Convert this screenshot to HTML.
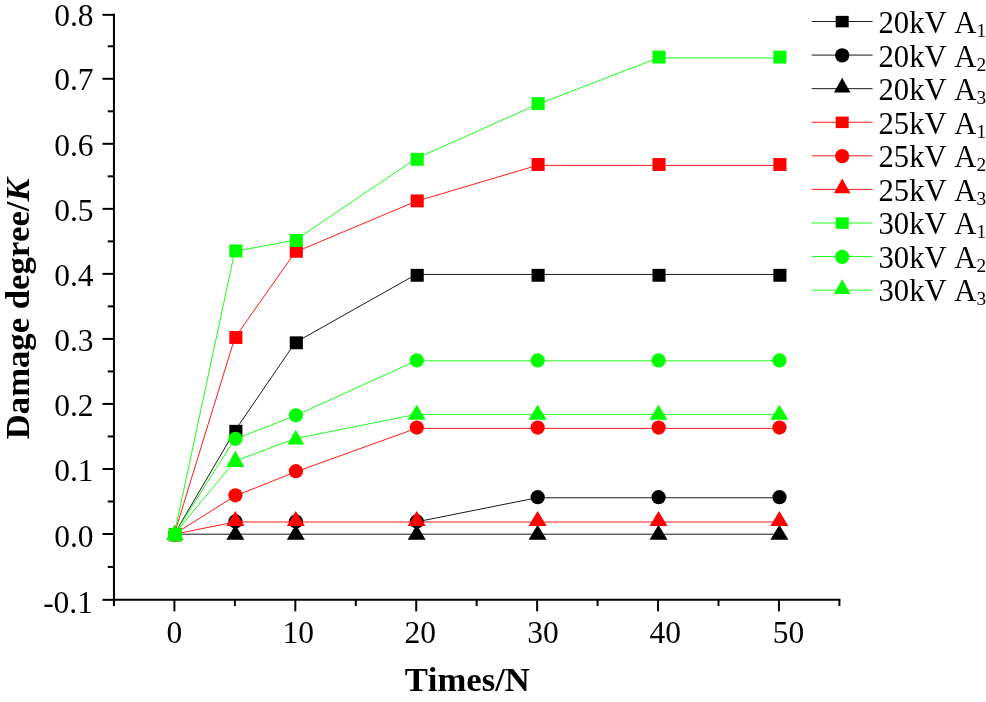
<!DOCTYPE html>
<html><head><meta charset="utf-8"><title>Damage degree</title>
<style>html,body{margin:0;padding:0;background:#fff}svg{display:block}text{font-kerning:none}</style>
</head><body>
<svg width="986" height="702" viewBox="0 0 986 702">
<rect width="986" height="702" fill="#fff"/>
<polyline points="174.30,534.20 234.77,431.00 295.24,342.50 416.18,274.45 537.12,274.45 658.06,274.45 779.00,274.45" fill="none" stroke="#000" stroke-width="0.9"/>
<rect x="168.85" y="528.30" width="13.1" height="12.9" fill="#000"/>
<rect x="229.30" y="424.85" width="13.1" height="12.9" fill="#000"/>
<rect x="289.75" y="336.35" width="13.1" height="12.9" fill="#000"/>
<rect x="410.65" y="268.85" width="13.1" height="12.9" fill="#000"/>
<rect x="531.55" y="268.85" width="13.1" height="12.9" fill="#000"/>
<rect x="652.45" y="268.85" width="13.1" height="12.9" fill="#000"/>
<rect x="773.35" y="268.85" width="13.1" height="12.9" fill="#000"/>
<polyline points="416.18,521.95 537.12,497.75 658.06,497.75 779.00,497.75" fill="none" stroke="#000" stroke-width="0.9"/>
<circle cx="175.00" cy="534.75" r="7.1" fill="#000"/>
<circle cx="235.45" cy="521.40" r="7.1" fill="#000"/>
<circle cx="295.90" cy="521.40" r="7.1" fill="#000"/>
<circle cx="416.80" cy="521.40" r="7.1" fill="#000"/>
<circle cx="537.70" cy="497.20" r="7.1" fill="#000"/>
<circle cx="658.60" cy="497.20" r="7.1" fill="#000"/>
<circle cx="779.50" cy="497.20" r="7.1" fill="#000"/>
<polyline points="174.30,534.20 234.77,534.20 295.24,534.20 416.18,534.20 537.12,534.20 658.06,534.20 779.00,534.20" fill="none" stroke="#000" stroke-width="0.9"/>
<polygon points="174.90,525.10 183.30,540.10 166.50,540.10" fill="#000"/>
<polygon points="235.35,524.80 244.35,539.80 226.35,539.80" fill="#000"/>
<polygon points="295.80,524.80 304.80,539.80 286.80,539.80" fill="#000"/>
<polygon points="416.70,524.80 425.70,539.80 407.70,539.80" fill="#000"/>
<polygon points="537.60,524.80 546.60,539.80 528.60,539.80" fill="#000"/>
<polygon points="658.50,524.80 667.50,539.80 649.50,539.80" fill="#000"/>
<polygon points="779.40,524.80 788.40,539.80 770.40,539.80" fill="#000"/>
<polyline points="174.30,534.20 234.77,337.90 295.24,252.10 416.18,201.30 537.12,165.40 658.06,165.40 779.00,165.40" fill="none" stroke="#f00" stroke-width="0.9"/>
<rect x="168.85" y="528.30" width="13.1" height="12.9" fill="#f00"/>
<rect x="229.30" y="331.05" width="13.1" height="12.9" fill="#f00"/>
<rect x="289.75" y="244.85" width="13.1" height="12.9" fill="#f00"/>
<rect x="410.65" y="194.45" width="13.1" height="12.9" fill="#f00"/>
<rect x="531.55" y="158.05" width="13.1" height="12.9" fill="#f00"/>
<rect x="652.45" y="158.05" width="13.1" height="12.9" fill="#f00"/>
<rect x="773.35" y="158.05" width="13.1" height="12.9" fill="#f00"/>
<polyline points="174.30,534.20 234.77,496.10 295.24,472.00 416.18,428.40 537.12,428.40 658.06,428.40 779.00,428.40" fill="none" stroke="#f00" stroke-width="0.9"/>
<circle cx="175.00" cy="534.75" r="7.1" fill="#f00"/>
<circle cx="235.45" cy="495.30" r="7.1" fill="#f00"/>
<circle cx="295.90" cy="471.20" r="7.1" fill="#f00"/>
<circle cx="416.80" cy="427.60" r="7.1" fill="#f00"/>
<circle cx="537.70" cy="427.60" r="7.1" fill="#f00"/>
<circle cx="658.60" cy="427.60" r="7.1" fill="#f00"/>
<circle cx="779.50" cy="427.60" r="7.1" fill="#f00"/>
<polyline points="174.30,534.20 234.77,522.00 295.24,522.00 416.18,522.00 537.12,522.00 658.06,522.00 779.00,522.00" fill="none" stroke="#f00" stroke-width="0.9"/>
<polygon points="174.90,525.10 183.30,540.10 166.50,540.10" fill="#f00"/>
<polygon points="235.35,511.00 244.35,526.00 226.35,526.00" fill="#f00"/>
<polygon points="295.80,511.00 304.80,526.00 286.80,526.00" fill="#f00"/>
<polygon points="416.70,511.00 425.70,526.00 407.70,526.00" fill="#f00"/>
<polygon points="537.60,511.00 546.60,526.00 528.60,526.00" fill="#f00"/>
<polygon points="658.50,511.00 667.50,526.00 649.50,526.00" fill="#f00"/>
<polygon points="779.40,511.00 788.40,526.00 770.40,526.00" fill="#f00"/>
<polyline points="174.30,534.20 234.77,251.40 295.24,240.10 416.18,158.50 537.12,104.50 658.06,57.90 779.00,57.90" fill="none" stroke="#0f0" stroke-width="0.9"/>
<rect x="168.85" y="528.30" width="13.1" height="12.9" fill="#0f0"/>
<rect x="229.30" y="244.45" width="13.1" height="12.9" fill="#0f0"/>
<rect x="289.75" y="234.05" width="13.1" height="12.9" fill="#0f0"/>
<rect x="410.65" y="152.85" width="13.1" height="12.9" fill="#0f0"/>
<rect x="531.55" y="97.15" width="13.1" height="12.9" fill="#0f0"/>
<rect x="652.45" y="50.65" width="13.1" height="12.9" fill="#0f0"/>
<rect x="773.35" y="50.65" width="13.1" height="12.9" fill="#0f0"/>
<polyline points="174.30,534.20 234.77,439.20 295.24,415.70 416.18,360.80 537.12,360.80 658.06,360.80 779.00,360.80" fill="none" stroke="#0f0" stroke-width="0.9"/>
<circle cx="175.00" cy="534.75" r="7.1" fill="#0f0"/>
<circle cx="235.45" cy="438.80" r="7.1" fill="#0f0"/>
<circle cx="295.90" cy="415.30" r="7.1" fill="#0f0"/>
<circle cx="416.80" cy="360.40" r="7.1" fill="#0f0"/>
<circle cx="537.70" cy="360.40" r="7.1" fill="#0f0"/>
<circle cx="658.60" cy="360.40" r="7.1" fill="#0f0"/>
<circle cx="779.50" cy="360.40" r="7.1" fill="#0f0"/>
<polyline points="174.30,534.20 234.77,461.20 295.24,438.60 416.18,414.40 537.12,414.40 658.06,414.40 779.00,414.40" fill="none" stroke="#0f0" stroke-width="0.9"/>
<polygon points="174.90,525.10 183.30,540.10 166.50,540.10" fill="#0f0"/>
<polygon points="235.35,450.70 244.45,466.90 226.25,466.90" fill="#0f0"/>
<polygon points="295.80,429.80 304.20,444.60 287.40,444.60" fill="#0f0"/>
<polygon points="416.70,404.80 425.70,419.80 407.70,419.80" fill="#0f0"/>
<polygon points="537.60,404.80 546.60,419.80 528.60,419.80" fill="#0f0"/>
<polygon points="658.50,404.80 667.50,419.80 649.50,419.80" fill="#0f0"/>
<polygon points="779.40,404.80 788.40,419.80 770.40,419.80" fill="#0f0"/>
<g stroke="#000" stroke-width="2" fill="none" stroke-linecap="butt">
<path d="M113.95,13.85 V600.85"/>
<path d="M112.95,599.85 H840.4"/>
<path d="M102.45,599.85 H113.95"/>
<path d="M107.75,566.92 H113.95"/>
<path d="M102.45,534.00 H113.95"/>
<path d="M107.75,501.49 H113.95"/>
<path d="M102.45,468.97 H113.95"/>
<path d="M107.75,436.46 H113.95"/>
<path d="M102.45,403.94 H113.95"/>
<path d="M107.75,371.43 H113.95"/>
<path d="M102.45,338.91 H113.95"/>
<path d="M107.75,306.40 H113.95"/>
<path d="M102.45,273.88 H113.95"/>
<path d="M107.75,241.37 H113.95"/>
<path d="M102.45,208.85 H113.95"/>
<path d="M107.75,176.33 H113.95"/>
<path d="M102.45,143.82 H113.95"/>
<path d="M107.75,111.31 H113.95"/>
<path d="M102.45,78.79 H113.95"/>
<path d="M107.75,46.28 H113.95"/>
<path d="M102.45,14.85 H113.95"/>
<path d="M113.95,599.85 V606.05"/>
<path d="M174.40,599.85 V611.35"/>
<path d="M234.86,599.85 V606.05"/>
<path d="M295.31,599.85 V611.35"/>
<path d="M355.77,599.85 V606.05"/>
<path d="M416.22,599.85 V611.35"/>
<path d="M476.67,599.85 V606.05"/>
<path d="M537.13,599.85 V611.35"/>
<path d="M597.58,599.85 V606.05"/>
<path d="M658.04,599.85 V611.35"/>
<path d="M718.49,599.85 V606.05"/>
<path d="M778.95,599.85 V611.35"/>
<path d="M839.40,599.85 V606.05"/>
</g>
<g font-family="'Liberation Serif', serif" font-size="31.5" fill="#000">
<text x="93.0" y="612.65" text-anchor="end">-0.1</text>
<text x="93.5" y="546.64" text-anchor="end">0.0</text>
<text x="93.5" y="481.45" text-anchor="end">0.1</text>
<text x="93.5" y="416.26" text-anchor="end">0.2</text>
<text x="93.5" y="351.07" text-anchor="end">0.3</text>
<text x="93.5" y="285.88" text-anchor="end">0.4</text>
<text x="93.5" y="220.69" text-anchor="end">0.5</text>
<text x="93.5" y="155.50" text-anchor="end">0.6</text>
<text x="93.5" y="90.31" text-anchor="end">0.7</text>
<text x="93.5" y="26.30" text-anchor="end">0.8</text>
<text x="174.40" y="642.6" text-anchor="middle">0</text>
<text x="298.30" y="642.6" text-anchor="middle">10</text>
<text x="420.35" y="642.6" text-anchor="middle">20</text>
<text x="543.00" y="642.6" text-anchor="middle">30</text>
<text x="665.15" y="642.6" text-anchor="middle">40</text>
<text x="788.40" y="642.6" text-anchor="middle">50</text>
</g>
<g font-family="'Liberation Serif', serif" font-size="30.67" fill="#000">
<path d="M811.7,21.50 H872.6" stroke="#000" stroke-width="0.9"/>
<rect x="835.70" y="15.85" width="13.0" height="11.5" fill="#000"/>
<text x="878.5" y="33.30">20kV A<tspan font-size="19.3" dy="3.9">1</tspan></text>
<path d="M811.7,55.08 H872.6" stroke="#000" stroke-width="0.9"/>
<circle cx="842.20" cy="55.38" r="7.1" fill="#000"/>
<text x="878.5" y="66.79">20kV A<tspan font-size="19.3" dy="3.9">2</tspan></text>
<path d="M811.7,88.66 H872.6" stroke="#000" stroke-width="0.9"/>
<polygon points="842.20,77.86 850.45,92.56 833.95,92.56" fill="#000"/>
<text x="878.5" y="100.28">20kV A<tspan font-size="19.3" dy="3.9">3</tspan></text>
<path d="M811.7,122.24 H872.6" stroke="#f00" stroke-width="0.9"/>
<rect x="835.70" y="116.59" width="13.0" height="11.5" fill="#f00"/>
<text x="878.5" y="133.77">25kV A<tspan font-size="19.3" dy="3.9">1</tspan></text>
<path d="M811.7,155.82 H872.6" stroke="#f00" stroke-width="0.9"/>
<circle cx="842.20" cy="156.12" r="7.1" fill="#f00"/>
<text x="878.5" y="167.26">25kV A<tspan font-size="19.3" dy="3.9">2</tspan></text>
<path d="M811.7,189.40 H872.6" stroke="#f00" stroke-width="0.9"/>
<polygon points="842.20,178.60 850.45,193.30 833.95,193.30" fill="#f00"/>
<text x="878.5" y="200.75">25kV A<tspan font-size="19.3" dy="3.9">3</tspan></text>
<path d="M811.7,222.98 H872.6" stroke="#0f0" stroke-width="0.9"/>
<rect x="835.70" y="217.33" width="13.0" height="11.5" fill="#0f0"/>
<text x="878.5" y="234.24">30kV A<tspan font-size="19.3" dy="3.9">1</tspan></text>
<path d="M811.7,256.56 H872.6" stroke="#0f0" stroke-width="0.9"/>
<circle cx="842.20" cy="256.86" r="7.1" fill="#0f0"/>
<text x="878.5" y="267.73">30kV A<tspan font-size="19.3" dy="3.9">2</tspan></text>
<path d="M811.7,290.14 H872.6" stroke="#0f0" stroke-width="0.9"/>
<polygon points="842.20,279.34 850.45,294.04 833.95,294.04" fill="#0f0"/>
<text x="878.5" y="301.22">30kV A<tspan font-size="19.3" dy="3.9">3</tspan></text>
</g>
<g font-family="'Liberation Serif', serif" font-size="34.67" font-weight="bold" fill="#000">
<text x="467.3" y="690.5" text-anchor="middle">Times/N</text>
<text transform="translate(28.7,308.8) rotate(-90)" text-anchor="middle">Damage degree/<tspan font-style="italic">K</tspan></text>
</g>
</svg>
</body></html>
